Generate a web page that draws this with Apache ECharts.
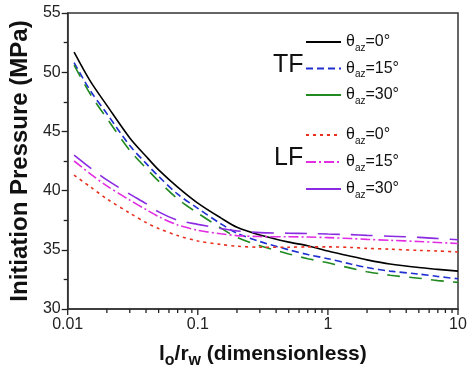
<!DOCTYPE html>
<html><head><meta charset="utf-8">
<script src="https://cdn.jsdelivr.net/npm/echarts@6/dist/echarts.min.js"></script>
<style>html,body{margin:0;padding:0;background:#fff}#c{width:474px;height:374px}</style>
</head><body><div id="c"></div>
<script>
// l_o / r_w values (x)
const xRatio = [0.0112, 0.015, 0.02, 0.03, 0.04, 0.05, 0.07, 0.1, 0.15, 0.2, 0.3, 0.5, 0.7, 1, 1.5, 2, 3, 5, 7, 10];
// Initiation pressure (MPa)
const tf0  = [51.7, 49.2, 47.2, 44.45, 42.9, 41.75, 40.3, 38.95, 37.7, 36.9, 36.25, 35.65, 35.35, 34.9, 34.45, 34.15, 33.8, 33.5, 33.35, 33.2];
const tf15 = [50.8, 48.4, 46.5, 43.8, 42.3, 41.2, 39.7, 38.5, 37.2, 36.4, 35.7, 35.0, 34.6, 34.25, 33.8, 33.5, 33.2, 32.95, 32.75, 32.55];
const tf30 = [50.6, 48.1, 46.1, 43.4, 41.9, 40.8, 39.3, 38.1, 36.85, 36.05, 35.35, 34.65, 34.25, 33.9, 33.45, 33.15, 32.85, 32.6, 32.4, 32.25];
const lf0  = [41.3, 40.3, 39.3, 38.1, 37.3, 36.8, 36.2, 35.75, 35.45, 35.3, 35.22, 35.22, 35.25, 35.25, 35.2, 35.12, 35.05, 34.95, 34.9, 34.82];
const lf15 = [42.5, 41.4, 40.4, 39.2, 38.4, 37.8, 37.1, 36.65, 36.35, 36.2, 36.12, 36.1, 36.08, 36.03, 35.95, 35.88, 35.8, 35.7, 35.62, 35.53];
const lf30 = [43.0, 41.9, 40.9, 39.7, 38.9, 38.2, 37.5, 37.15, 36.8, 36.6, 36.45, 36.4, 36.38, 36.33, 36.28, 36.22, 36.15, 36.05, 35.95, 35.85];
// axis ticks
const xTickLabels = ['0.01', '0.1', '1', '10'];
const xMajorTicks = [0.01, 0.1, 1, 10];
const xMinorTicks = [0.02,0.03,0.04,0.05,0.06,0.07,0.08,0.09,0.2,0.3,0.4,0.5,0.6,0.7,0.8,0.9,2,3,4,5,6,7,8,9];
const yTickValues = [30, 35, 40, 45, 50, 55];
const yMin = 30;

const FONT = 'Liberation Sans, Arial, sans-serif';
const chart = echarts.init(document.getElementById('c'), null, {renderer: 'canvas'});

function pairs(ys) { return xRatio.map((x, i) => [x, ys[i]]); }

const seriesDefs = [
  {name: 'TF0',  data: tf0,  color: '#000000', type: 'solid'},
  {name: 'TF15', data: tf15, color: '#1f2fd0', type: [7, 4]},
  {name: 'TF30', data: tf30, color: '#208a20', type: [13, 9]},
  {name: 'LF0',  data: lf0,  color: '#e8301f', type: [3, 4]},
  {name: 'LF15', data: lf15, color: '#e22ee2', type: [10, 3, 2, 3]},
  {name: 'LF30', data: lf30, color: '#8a2be2', type: [22, 11]}
];

const labelRich = {
  t: {fontSize: 16, fontFamily: FONT, color: '#111', lineHeight: 22, verticalAlign: 'middle'},
  s: {fontSize: 10, fontFamily: FONT, color: '#111', lineHeight: 22, verticalAlign: 'bottom'}
};
function legendFmt(name) {
  const a = name.replace('TF', '').replace('LF', '');
  return '{t|θ}{s|az}{t|=' + a + '°}';
}
const hiddenSym = {color: 'rgba(0,0,0,0)', borderColor: 'rgba(0,0,0,0)', borderWidth: 0, opacity: 0};

const lineSeries = seriesDefs.map(s => ({
  name: s.name, type: 'line', data: pairs(s.data), smooth: 0.3,
  symbol: 'none', showSymbol: false,
  lineStyle: {color: s.color, width: 1.6, type: s.type},
  itemStyle: {color: s.color}
}));

// x ticks (decades long, 2..9 of each decade short) placed through the log axis scale
function tickSeries(values, len, width) {
  return {
    type: 'custom', clip: false, z: 5,
    data: values.map(v => [v, yMin]),
    renderItem: (params, api) => {
      const p = api.coord([api.value(0), api.value(1)]);
      return {type: 'line', shape: {x1: p[0], y1: p[1], x2: p[0], y2: p[1] + len},
        style: {stroke: '#222', lineWidth: width}};
    }
  };
}

const option = {
  animation: false,
  backgroundColor: '#fff',
  grid: {left: 57, right: 16, top: 13, bottom: 63, show: true, borderColor: '#333', borderWidth: 1.5, backgroundColor: 'transparent'},
  xAxis: {
    type: 'log', logBase: 10, min: 0.01, max: 10,
    name: '{b|l}{s|o}{b|/r}{s|w}{b| (dimensionless)}',
    nameLocation: 'middle', nameGap: 30,
    nameTextStyle: {rich: {
      b: {fontSize: 21, fontWeight: 'bold', fontFamily: FONT, color: '#111', lineHeight: 26, verticalAlign: 'middle'},
      s: {fontSize: 16, fontWeight: 'bold', fontFamily: FONT, color: '#111', lineHeight: 30, verticalAlign: 'bottom'}
    }},
    axisLine: {show: true, onZero: false, lineStyle: {color: '#333', width: 1.5}},
    axisTick: {show: false},
    axisLabel: {fontSize: 16, fontFamily: FONT, color: '#222', margin: 8,
      formatter: v => { const i = Math.round(Math.log10(v)) + 2; return xTickLabels[i] || ''; }},
    splitLine: {show: false}
  },
  yAxis: {
    type: 'value', min: yMin, max: 55, interval: 5,
    name: 'Initiation Pressure (MPa)', nameLocation: 'middle', nameGap: 29,
    nameTextStyle: {fontSize: 24, fontWeight: 'bold', fontFamily: FONT, color: '#111'},
    axisLine: {show: true, onZero: false, lineStyle: {color: '#333', width: 1.5}},
    axisTick: {show: true, inside: false, length: 6, lineStyle: {color: '#222', width: 1.3}},
    minorTick: {show: true, splitNumber: 2, length: 4, lineStyle: {color: '#222', width: 1.3}},
    axisLabel: {fontSize: 16, fontFamily: FONT, color: '#222', margin: 7,
      formatter: v => yTickValues.indexOf(v) >= 0 ? String(v) : ''},
    splitLine: {show: false}
  },
  legend: [{
    orient: 'vertical', left: 305, top: 34, padding: 0, itemGap: 7.5,
    itemWidth: 35, itemHeight: 14, selectedMode: false, itemStyle: hiddenSym,
    data: [{name: 'TF0'}, {name: 'TF15'}, {name: 'TF30', lineStyle: {type: 'solid'}}],
    formatter: legendFmt, textStyle: {rich: labelRich}
  }, {
    orient: 'vertical', left: 305, top: 127, padding: 0, itemGap: 8,
    itemWidth: 35, itemHeight: 14, selectedMode: false, itemStyle: hiddenSym,
    data: [{name: 'LF0'}, {name: 'LF15'}, {name: 'LF30', lineStyle: {type: 'solid'}}],
    formatter: legendFmt, textStyle: {rich: labelRich}
  }],
  graphic: [
    {type: 'text', left: 273, top: 53, style: {text: 'TF', fontSize: 25, fontFamily: FONT, fill: '#111'}},
    {type: 'text', left: 274, top: 146, style: {text: 'LF', fontSize: 25, fontFamily: FONT, fill: '#111'}}
  ],
  series: lineSeries.concat([tickSeries(xMajorTicks, 6, 1.3), tickSeries(xMinorTicks, 4, 1.3)])
};
chart.setOption(option);
</script></body></html>
